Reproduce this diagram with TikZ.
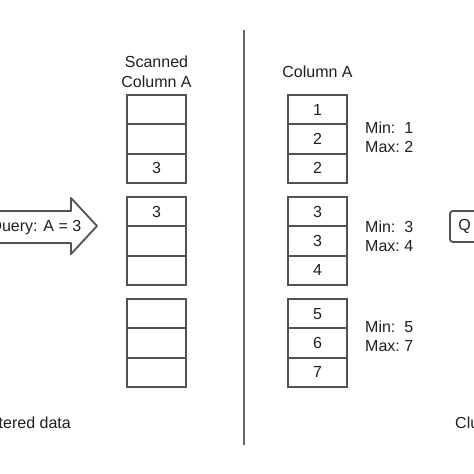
\documentclass[tikz,border=0pt]{standalone}
\usepackage{fontspec}
\setmainfont{Liberation Sans}
\usetikzlibrary{positioning}
\usetikzlibrary{calc}

\colorlet{boxgrey}{black!68}
\colorlet{inkgrey}{black!88}

\begin{document}
\begin{tikzpicture}[x=1pt, y=-1pt,
	txt/.style={inner sep=0pt, text=inkgrey, font=\fontsize{16}{19.5}\selectfont},
	cell/.style={txt, draw=boxgrey, line width=1.8pt, minimum width=59pt, minimum height=29.33pt},
	qarrow/.style={draw=boxgrey, fill=white, line width=1.8pt, line join=round}]

	% canvas
	\useasboundingbox (0,0) rectangle (474,474);
	\clip (0,0) rectangle (474,474);

	% divider between the two halves
	\coordinate (divTop) at (244,30);
	\coordinate (divBot) at (244,445);
	\draw[black!60, line width=1.5pt] (divTop) -- (divBot);

	% column headings
	\node[txt, align=center] (scanHead) at (156.5,72) {Scanned\\Column A};
	\node[txt] (colHead) at (317.5,72) {Column A};

	% scanned column, unclustered data
	\foreach \g/\a/\b/\c in {0/{}/{}/3, 1/3/{}/{}, 2/{}/{}/{}} {
		\node[cell] (scan\g-1) at (156.5,95+102*\g+14.67) {\a};
		\node[cell] (scan\g-2) at (156.5,95+102*\g+44) {\b};
		\node[cell] (scan\g-3) at (156.5,95+102*\g+73.33) {\c};
	}

	% clustered column with min/max per block
	\foreach \g/\a/\b/\c/\lo/\hi/\yb in {0/1/2/2/1/2/133, 1/3/3/4/3/4/232, 2/5/6/7/5/7/332} {
		\node[cell] (col\g-1) at (317.5,95+102*\g+14.67) {\a};
		\node[cell] (col\g-2) at (317.5,95+102*\g+44) {\b};
		\node[cell] (col\g-3) at (317.5,95+102*\g+73.33) {\c};
		\node[txt, anchor=base west] (range\g) at (365,\yb)
			{\begin{tabular}[t]{@{}l@{\ }l@{}}Min: & \lo\\Max: & \hi\end{tabular}};
	}

	% query arrow on the left
	\coordinate (arTail) at (-12,227);
	\coordinate (arTip) at (97,226);
	\draw[qarrow] (-12,211) -- (71,211) -- (71,198) -- (arTip) -- (71,254) -- (71,243) -- (-12,243) -- cycle;
	\node[txt, anchor=base east] (query) at (81.5,231) {Query: A = 3};

	% query box on the right
	\node[txt, draw=boxgrey, line width=1.8pt, rounded corners=3pt, anchor=west,
		minimum height=31pt, text width=40pt, align=left, inner xsep=8.5pt] (queryRight) at (449,226.5) {Q};

	% captions
	\node[txt, anchor=base east] (leftCap) at (71,428) {tered data};
	\node[txt, anchor=base west] (rightCap) at (455,428) {Clu};

\end{tikzpicture}
\end{document}
